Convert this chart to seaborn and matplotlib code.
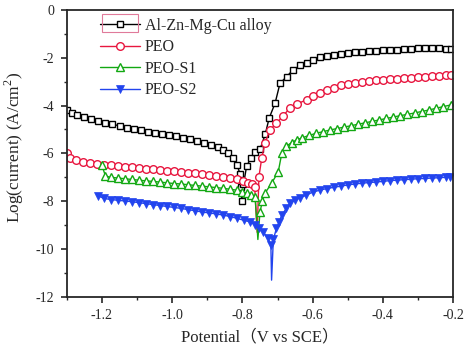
import matplotlib
matplotlib.use('Agg')
import matplotlib.pyplot as plt
import seaborn as sns
from matplotlib.patches import Rectangle

# Tafel curves
alloy_x = [-1.30, -1.285, -1.27, -1.25, -1.23, -1.21, -1.19, -1.17, -1.15, -1.13,
           -1.11, -1.09, -1.07, -1.05, -1.03, -1.01, -0.99, -0.97, -0.95, -0.93,
           -0.91, -0.89, -0.87, -0.855, -0.84, -0.826, -0.815, -0.807, -0.803, -0.802,
           -0.797, -0.788, -0.776, -0.764, -0.75, -0.735, -0.724, -0.707, -0.693, -0.674,
           -0.656, -0.635, -0.617, -0.60, -0.58, -0.56, -0.54, -0.52, -0.50, -0.48,
           -0.46, -0.44, -0.42, -0.40, -0.38, -0.36, -0.34, -0.32, -0.30, -0.28,
           -0.26, -0.24, -0.22, -0.205]
alloy_y = [-4.2, -4.32, -4.38, -4.47, -4.55, -4.63, -4.71, -4.78, -4.85, -4.92,
           -4.98, -5.04, -5.09, -5.14, -5.19, -5.24, -5.29, -5.34, -5.4, -5.48,
           -5.57, -5.66, -5.75, -5.85, -6.0, -6.2, -6.5, -6.85, -7.4, -8.0,
           -7.3, -6.53, -6.2, -5.93, -5.83, -5.2, -4.53, -3.9, -3.07, -2.79,
           -2.51, -2.32, -2.23, -2.08, -1.98, -1.92, -1.88, -1.84, -1.81, -1.78,
           -1.75, -1.73, -1.71, -1.69, -1.67, -1.66, -1.64, -1.62, -1.61, -1.59,
           -1.58, -1.6, -1.62, -1.63]

peo_x = [-1.30, -1.29, -1.275, -1.255, -1.235, -1.215, -1.195, -1.175, -1.155, -1.135,
         -1.115, -1.095, -1.075, -1.055, -1.035, -1.015, -0.995, -0.975, -0.955, -0.935,
         -0.915, -0.895, -0.875, -0.855, -0.835, -0.815, -0.798, -0.785, -0.774, -0.765,
         -0.758, -0.753, -0.745, -0.736, -0.722, -0.703, -0.685, -0.665, -0.646, -0.617,
         -0.60, -0.58, -0.56, -0.54, -0.52, -0.50, -0.48, -0.46, -0.44, -0.42,
         -0.40, -0.38, -0.36, -0.34, -0.32, -0.30, -0.28, -0.26, -0.24, -0.22,
         -0.205]
peo_y = [-6.0, -6.2, -6.28, -6.34, -6.39, -6.43, -6.47, -6.5, -6.53, -6.56,
         -6.59, -6.62, -6.64, -6.67, -6.7, -6.72, -6.75, -6.77, -6.8, -6.83,
         -6.86, -6.89, -6.93, -6.97, -7.01, -7.07, -7.15, -7.23, -7.3, -7.42,
         -9.3, -6.97, -6.2, -5.58, -5.02, -4.74, -4.45, -4.1, -3.95, -3.75,
         -3.62, -3.48, -3.36, -3.25, -3.16, -3.09, -3.04, -3.0, -2.97, -2.94,
         -2.92, -2.9, -2.88, -2.86, -2.84, -2.82, -2.8, -2.77, -2.75, -2.73,
         -2.72]

s1_x = [-1.20, -1.19, -1.175, -1.155, -1.135, -1.115, -1.095, -1.075, -1.055, -1.035,
        -1.015, -0.995, -0.975, -0.955, -0.935, -0.915, -0.895, -0.875, -0.855, -0.835,
        -0.815, -0.80, -0.788, -0.775, -0.764, -0.756, -0.75, -0.743, -0.736, -0.717,
        -0.698, -0.688, -0.675, -0.66, -0.646, -0.63, -0.61, -0.59, -0.57, -0.55,
        -0.53, -0.51, -0.49, -0.47, -0.45, -0.43, -0.41, -0.39, -0.37, -0.35,
        -0.33, -0.31, -0.29, -0.27, -0.25, -0.23, -0.205]
s1_y = [-6.5, -6.95, -7.0, -7.03, -7.06, -7.09, -7.12, -7.15, -7.17, -7.2,
        -7.23, -7.26, -7.28, -7.31, -7.34, -7.37, -7.4, -7.43, -7.46, -7.5,
        -7.54, -7.6, -7.67, -7.74, -7.81, -9.6, -8.44, -8.0, -7.67, -7.25,
        -6.77, -6.0, -5.7, -5.55, -5.44, -5.35, -5.25, -5.16, -5.09, -5.02,
        -4.96, -4.9, -4.84, -4.78, -4.72, -4.66, -4.6, -4.54, -4.48, -4.42,
        -4.37, -4.31, -4.25, -4.19, -4.12, -4.05, -3.97]

s2_x = [-1.21, -1.195, -1.175, -1.155, -1.135, -1.115, -1.095, -1.075, -1.055, -1.035,
        -1.015, -0.995, -0.975, -0.955, -0.935, -0.915, -0.895, -0.875, -0.855, -0.835,
        -0.815, -0.795, -0.779, -0.765, -0.752, -0.741, -0.728, -0.719, -0.717, -0.712,
        -0.703, -0.695, -0.688, -0.675, -0.665, -0.65, -0.635, -0.62, -0.60, -0.58,
        -0.56, -0.54, -0.52, -0.50, -0.48, -0.46, -0.44, -0.42, -0.40, -0.38,
        -0.36, -0.34, -0.32, -0.30, -0.28, -0.26, -0.24, -0.22, -0.21]
s2_y = [-7.78, -7.88, -7.93, -7.96, -7.99, -8.02, -8.06, -8.1, -8.14, -8.18,
        -8.22, -8.26, -8.3, -8.35, -8.4, -8.45, -8.49, -8.53, -8.58, -8.64,
        -8.72, -8.8, -8.86, -8.98, -9.12, -9.28, -9.55, -9.85, -11.3, -9.6,
        -9.13, -8.85, -8.58, -8.3, -8.09, -7.95, -7.85, -7.76, -7.62, -7.54,
        -7.47, -7.42, -7.37, -7.32, -7.28, -7.25, -7.22, -7.2, -7.17, -7.14,
        -7.12, -7.1, -7.08, -7.06, -7.05, -7.03, -7.02, -7.0, -6.99]

labels = ['Al-Zn-Mg-Cu alloy', 'PEO', 'PEO-S1', 'PEO-S2']

sns.set_style('ticks')
plt.rcParams['font.family'] = ['Liberation Serif', 'Noto Sans CJK SC']
plt.rcParams['mathtext.fontset'] = 'custom'
plt.rcParams['mathtext.rm'] = 'Liberation Serif'

fig = plt.figure(figsize=(4.74, 3.53), dpi=100)
ax = fig.add_axes([0.141, 0.159, 0.815, 0.813])

# markers skip the spike tips, as in the reference
def no_tip(ys):
    tip = ys.index(min(ys))
    return [i for i in range(len(ys)) if i != tip]

sns.lineplot(x=alloy_x, y=alloy_y, ax=ax, color='black', lw=1, marker='s', ms=5,
             mfc='white', mec='black', mew=1, label=labels[0], sort=False)
sns.lineplot(x=peo_x, y=peo_y, ax=ax, color='#E8173F', lw=1, marker='o', ms=5.5,
             mfc='white', mec='#E8173F', mew=1, label=labels[1], sort=False,
             markevery=no_tip(peo_y))
sns.lineplot(x=s1_x, y=s1_y, ax=ax, color='#12A812', lw=1, marker='^', ms=6,
             mfc='white', mec='#12A812', mew=1, label=labels[2], sort=False,
             markevery=no_tip(s1_y))
sns.lineplot(x=s2_x, y=s2_y, ax=ax, color='#2244EE', lw=1, marker='v', ms=6,
             mfc='#2244EE', mec='#2244EE', mew=0.5, label=labels[3], sort=False,
             markevery=no_tip(s2_y))

ax.set_xlim(-1.3, -0.2)
ax.set_ylim(-12, 0)
ax.set_xticks([-1.2, -1.0, -0.8, -0.6, -0.4, -0.2])
ax.set_xticks([-1.3, -1.1, -0.9, -0.7, -0.5, -0.3], minor=True)
ax.set_yticks([0, -2, -4, -6, -8, -10, -12])
ax.set_yticks([-1, -3, -5, -7, -9, -11], minor=True)
ax.set_xticklabels(['-1.2', '-1.0', '-0.8', '-0.6', '-0.4', '-0.2'])
ax.set_yticklabels(['0', '-2', '-4', '-6', '-8', '-10', '-12'])
ax.tick_params(axis='both', which='major', direction='out', length=4, width=1.2,
               labelsize=10, pad=5)
ax.tick_params(axis='both', which='minor', direction='out', length=2.5, width=1)
for s in ax.spines.values():
    s.set_linewidth(1.3)
    s.set_visible(True)

ax.set_xlabel('Potential（V vs SCE）', fontsize=12, labelpad=5)
ax.set_ylabel('Log(current) (A/cm$^2$)', fontsize=12.5)
ax.yaxis.set_label_coords(-0.105, 0.52)

ax.legend(loc='upper left', bbox_to_anchor=(0.07, 0.995), frameon=False, fontsize=11.5,
          handlelength=2.5, handletextpad=0.3, labelspacing=0.35, borderaxespad=0)

# thin pink box around the first legend key
fig.patches.append(Rectangle((102 / 474, 1 - 32 / 353), 36 / 474, 18 / 353,
                             transform=fig.transFigure, fill=False,
                             edgecolor='#E07A9A', lw=0.8))

fig.savefig('out.png', dpi=100)
